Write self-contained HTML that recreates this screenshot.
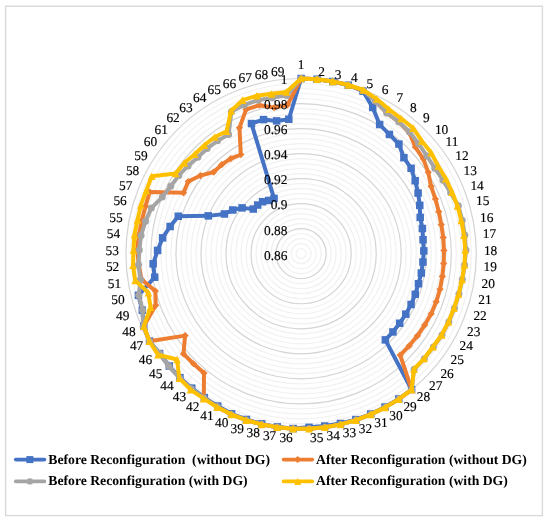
<!DOCTYPE html>
<html><head><meta charset="utf-8"><title>Voltage profile radar chart</title>
<style>html,body{margin:0;padding:0;background:#fff}svg{display:block}</style></head>
<body>
<svg width="550" height="522" viewBox="0 0 550 522">
<rect x="0" y="0" width="550" height="522" fill="#fff"/>
<rect x="5.6" y="6.2" width="536.8" height="509.4" fill="#fff" stroke="#d9d9d9" stroke-width="1.4"/>
<g fill="none">
<circle cx="301.1" cy="253.7" r="5.01" stroke="#f1f1f1" stroke-width="1.2"/>
<circle cx="301.1" cy="253.7" r="10.01" stroke="#f1f1f1" stroke-width="1.2"/>
<circle cx="301.1" cy="253.7" r="15.02" stroke="#f1f1f1" stroke-width="1.2"/>
<circle cx="301.1" cy="253.7" r="20.02" stroke="#f1f1f1" stroke-width="1.2"/>
<circle cx="301.1" cy="253.7" r="25.03" stroke="#d4d4d4" stroke-width="1.2"/>
<circle cx="301.1" cy="253.7" r="30.03" stroke="#f1f1f1" stroke-width="1.2"/>
<circle cx="301.1" cy="253.7" r="35.04" stroke="#f1f1f1" stroke-width="1.2"/>
<circle cx="301.1" cy="253.7" r="40.05" stroke="#f1f1f1" stroke-width="1.2"/>
<circle cx="301.1" cy="253.7" r="45.05" stroke="#f1f1f1" stroke-width="1.2"/>
<circle cx="301.1" cy="253.7" r="50.06" stroke="#d4d4d4" stroke-width="1.2"/>
<circle cx="301.1" cy="253.7" r="55.06" stroke="#f1f1f1" stroke-width="1.2"/>
<circle cx="301.1" cy="253.7" r="60.07" stroke="#f1f1f1" stroke-width="1.2"/>
<circle cx="301.1" cy="253.7" r="65.07" stroke="#f1f1f1" stroke-width="1.2"/>
<circle cx="301.1" cy="253.7" r="70.08" stroke="#f1f1f1" stroke-width="1.2"/>
<circle cx="301.1" cy="253.7" r="75.09" stroke="#d4d4d4" stroke-width="1.2"/>
<circle cx="301.1" cy="253.7" r="80.09" stroke="#f1f1f1" stroke-width="1.2"/>
<circle cx="301.1" cy="253.7" r="85.10" stroke="#f1f1f1" stroke-width="1.2"/>
<circle cx="301.1" cy="253.7" r="90.10" stroke="#f1f1f1" stroke-width="1.2"/>
<circle cx="301.1" cy="253.7" r="95.11" stroke="#f1f1f1" stroke-width="1.2"/>
<circle cx="301.1" cy="253.7" r="100.11" stroke="#d4d4d4" stroke-width="1.2"/>
<circle cx="301.1" cy="253.7" r="105.12" stroke="#f1f1f1" stroke-width="1.2"/>
<circle cx="301.1" cy="253.7" r="110.13" stroke="#f1f1f1" stroke-width="1.2"/>
<circle cx="301.1" cy="253.7" r="115.13" stroke="#f1f1f1" stroke-width="1.2"/>
<circle cx="301.1" cy="253.7" r="120.14" stroke="#f1f1f1" stroke-width="1.2"/>
<circle cx="301.1" cy="253.7" r="125.14" stroke="#d4d4d4" stroke-width="1.2"/>
<circle cx="301.1" cy="253.7" r="130.15" stroke="#f1f1f1" stroke-width="1.2"/>
<circle cx="301.1" cy="253.7" r="135.15" stroke="#f1f1f1" stroke-width="1.2"/>
<circle cx="301.1" cy="253.7" r="140.16" stroke="#f1f1f1" stroke-width="1.2"/>
<circle cx="301.1" cy="253.7" r="145.17" stroke="#f1f1f1" stroke-width="1.2"/>
<circle cx="301.1" cy="253.7" r="150.17" stroke="#d4d4d4" stroke-width="1.2"/>
<circle cx="301.1" cy="253.7" r="155.18" stroke="#f1f1f1" stroke-width="1.2"/>
<circle cx="301.1" cy="253.7" r="160.18" stroke="#f1f1f1" stroke-width="1.2"/>
<circle cx="301.1" cy="253.7" r="165.19" stroke="#f1f1f1" stroke-width="1.2"/>
<circle cx="301.1" cy="253.7" r="170.19" stroke="#f1f1f1" stroke-width="1.2"/>
<circle cx="301.1" cy="253.7" r="175.20" stroke="#d4d4d4" stroke-width="1.2"/>
</g>
<path d="M301.10,78.50 L317.03,79.23 L332.81,81.52 L348.30,85.24 L363.07,91.16 L372.69,107.48 L379.65,124.54 L389.43,134.43 L398.91,144.07 L403.90,157.69 L411.12,168.28 L415.16,180.73 L418.10,193.07 L419.77,205.34 L420.20,217.39 L422.40,228.49 L423.07,239.76 L423.83,250.91 L422.95,262.04 L421.32,273.02 L418.46,283.72 L415.24,294.27 L411.08,304.48 L405.79,314.14 L399.66,323.27 L392.92,331.94 L385.34,339.88 L411.59,389.51 L398.78,398.99 L385.04,407.05 L370.75,414.05 L355.84,419.60 L340.44,423.53 L324.79,426.03 L309.01,427.34 L293.13,428.59 L277.29,426.90 L261.67,423.89 L246.40,419.48 L231.55,413.82 L217.70,406.07 L204.33,397.64 L191.72,388.15 L179.95,377.64 L169.27,366.03 L159.60,353.58 L149.59,341.17 L143.74,326.35 L142.27,310.15 L138.40,295.32 L154.68,277.23 L153.15,263.82 L157.60,250.43 L162.59,237.87 L170.12,226.48 L178.29,216.25 L208.27,215.87 L224.43,213.97 L232.79,210.00 L242.09,207.88 L253.27,209.03 L257.69,205.05 L262.60,201.71 L268.72,200.45 L274.03,198.40 L251.48,123.55 L263.52,119.58 L276.64,120.90 L288.82,119.23 Z" fill="none" stroke="#4472c4" stroke-width="4" stroke-linejoin="round"/>
<g fill="#4472c4">
<rect x="297.35" y="74.75" width="7.5" height="7.5"/>
<rect x="313.28" y="75.48" width="7.5" height="7.5"/>
<rect x="329.06" y="77.77" width="7.5" height="7.5"/>
<rect x="344.55" y="81.49" width="7.5" height="7.5"/>
<rect x="359.32" y="87.41" width="7.5" height="7.5"/>
<rect x="368.94" y="103.73" width="7.5" height="7.5"/>
<rect x="375.90" y="120.79" width="7.5" height="7.5"/>
<rect x="385.68" y="130.68" width="7.5" height="7.5"/>
<rect x="395.16" y="140.32" width="7.5" height="7.5"/>
<rect x="400.15" y="153.94" width="7.5" height="7.5"/>
<rect x="407.37" y="164.53" width="7.5" height="7.5"/>
<rect x="411.41" y="176.98" width="7.5" height="7.5"/>
<rect x="414.35" y="189.32" width="7.5" height="7.5"/>
<rect x="416.02" y="201.59" width="7.5" height="7.5"/>
<rect x="416.45" y="213.64" width="7.5" height="7.5"/>
<rect x="418.65" y="224.74" width="7.5" height="7.5"/>
<rect x="419.32" y="236.01" width="7.5" height="7.5"/>
<rect x="420.08" y="247.16" width="7.5" height="7.5"/>
<rect x="419.20" y="258.29" width="7.5" height="7.5"/>
<rect x="417.57" y="269.27" width="7.5" height="7.5"/>
<rect x="414.71" y="279.97" width="7.5" height="7.5"/>
<rect x="411.49" y="290.52" width="7.5" height="7.5"/>
<rect x="407.33" y="300.73" width="7.5" height="7.5"/>
<rect x="402.04" y="310.39" width="7.5" height="7.5"/>
<rect x="395.91" y="319.52" width="7.5" height="7.5"/>
<rect x="389.17" y="328.19" width="7.5" height="7.5"/>
<rect x="381.59" y="336.13" width="7.5" height="7.5"/>
<rect x="407.84" y="385.76" width="7.5" height="7.5"/>
<rect x="395.03" y="395.24" width="7.5" height="7.5"/>
<rect x="381.29" y="403.30" width="7.5" height="7.5"/>
<rect x="367.00" y="410.30" width="7.5" height="7.5"/>
<rect x="352.09" y="415.85" width="7.5" height="7.5"/>
<rect x="336.69" y="419.78" width="7.5" height="7.5"/>
<rect x="321.04" y="422.28" width="7.5" height="7.5"/>
<rect x="305.26" y="423.59" width="7.5" height="7.5"/>
<rect x="289.38" y="424.84" width="7.5" height="7.5"/>
<rect x="273.54" y="423.15" width="7.5" height="7.5"/>
<rect x="257.92" y="420.14" width="7.5" height="7.5"/>
<rect x="242.65" y="415.73" width="7.5" height="7.5"/>
<rect x="227.80" y="410.07" width="7.5" height="7.5"/>
<rect x="213.95" y="402.32" width="7.5" height="7.5"/>
<rect x="200.58" y="393.89" width="7.5" height="7.5"/>
<rect x="187.97" y="384.40" width="7.5" height="7.5"/>
<rect x="176.20" y="373.89" width="7.5" height="7.5"/>
<rect x="165.52" y="362.28" width="7.5" height="7.5"/>
<rect x="155.85" y="349.83" width="7.5" height="7.5"/>
<rect x="145.84" y="337.42" width="7.5" height="7.5"/>
<rect x="139.99" y="322.60" width="7.5" height="7.5"/>
<rect x="138.52" y="306.40" width="7.5" height="7.5"/>
<rect x="134.65" y="291.57" width="7.5" height="7.5"/>
<rect x="150.93" y="273.48" width="7.5" height="7.5"/>
<rect x="149.40" y="260.07" width="7.5" height="7.5"/>
<rect x="153.85" y="246.68" width="7.5" height="7.5"/>
<rect x="158.84" y="234.12" width="7.5" height="7.5"/>
<rect x="166.37" y="222.73" width="7.5" height="7.5"/>
<rect x="174.54" y="212.50" width="7.5" height="7.5"/>
<rect x="204.52" y="212.12" width="7.5" height="7.5"/>
<rect x="220.68" y="210.22" width="7.5" height="7.5"/>
<rect x="229.04" y="206.25" width="7.5" height="7.5"/>
<rect x="238.34" y="204.13" width="7.5" height="7.5"/>
<rect x="249.52" y="205.28" width="7.5" height="7.5"/>
<rect x="253.94" y="201.30" width="7.5" height="7.5"/>
<rect x="258.85" y="197.96" width="7.5" height="7.5"/>
<rect x="264.97" y="196.70" width="7.5" height="7.5"/>
<rect x="270.28" y="194.65" width="7.5" height="7.5"/>
<rect x="247.73" y="119.80" width="7.5" height="7.5"/>
<rect x="259.77" y="115.83" width="7.5" height="7.5"/>
<rect x="272.89" y="117.15" width="7.5" height="7.5"/>
<rect x="285.07" y="115.48" width="7.5" height="7.5"/>
</g>
<path d="M301.10,78.50 L317.03,79.23 L332.83,81.40 L348.37,85.00 L363.29,90.58 L375.72,101.29 L386.67,112.99 L398.74,121.85 L409.24,132.49 L415.33,147.01 L423.28,158.84 L428.23,172.37 L431.10,186.34 L435.41,198.96 L438.76,211.73 L441.27,224.57 L443.21,237.45 L443.98,250.45 L443.68,263.45 L442.33,276.40 L440.04,289.24 L436.23,301.73 L431.19,313.76 L424.65,325.03 L417.45,335.83 L409.21,345.82 L400.21,355.09 L411.67,389.60 L398.85,399.10 L385.22,407.38 L370.90,414.40 L356.00,420.08 L340.64,424.38 L324.96,427.27 L309.07,428.72 L293.13,428.72 L277.24,427.27 L261.56,424.38 L246.20,420.08 L231.30,414.40 L217.22,406.94 L203.84,398.37 L203.96,373.10 L193.50,363.77 L183.46,353.94 L185.06,335.61 L149.37,341.30 L143.74,326.35 L155.71,305.37 L155.37,290.98 L141.46,279.36 L138.79,264.80 L137.21,249.97 L138.85,235.15 L141.82,220.60 L145.49,206.25 L149.75,192.02 L183.54,192.79 L188.30,181.54 L200.47,175.57 L213.67,172.04 L221.70,164.71 L230.72,158.66 L240.82,154.58 L239.47,127.82 L246.09,109.41 L259.50,105.24 L274.20,107.61 L287.52,105.02 Z" fill="none" stroke="#ed7d31" stroke-width="4" stroke-linejoin="round"/>
<g fill="#ed7d31">
<path d="M301.10,74.90 L304.70,78.50 L301.10,82.10 L297.50,78.50Z"/>
<path d="M317.03,75.63 L320.63,79.23 L317.03,82.83 L313.43,79.23Z"/>
<path d="M332.83,77.80 L336.43,81.40 L332.83,85.00 L329.23,81.40Z"/>
<path d="M348.37,81.40 L351.97,85.00 L348.37,88.60 L344.77,85.00Z"/>
<path d="M363.29,86.98 L366.89,90.58 L363.29,94.18 L359.69,90.58Z"/>
<path d="M375.72,97.69 L379.32,101.29 L375.72,104.89 L372.12,101.29Z"/>
<path d="M386.67,109.39 L390.27,112.99 L386.67,116.59 L383.07,112.99Z"/>
<path d="M398.74,118.25 L402.34,121.85 L398.74,125.45 L395.14,121.85Z"/>
<path d="M409.24,128.89 L412.84,132.49 L409.24,136.09 L405.64,132.49Z"/>
<path d="M415.33,143.41 L418.93,147.01 L415.33,150.61 L411.73,147.01Z"/>
<path d="M423.28,155.24 L426.88,158.84 L423.28,162.44 L419.68,158.84Z"/>
<path d="M428.23,168.77 L431.83,172.37 L428.23,175.97 L424.63,172.37Z"/>
<path d="M431.10,182.74 L434.70,186.34 L431.10,189.94 L427.50,186.34Z"/>
<path d="M435.41,195.36 L439.01,198.96 L435.41,202.56 L431.81,198.96Z"/>
<path d="M438.76,208.13 L442.36,211.73 L438.76,215.33 L435.16,211.73Z"/>
<path d="M441.27,220.97 L444.87,224.57 L441.27,228.17 L437.67,224.57Z"/>
<path d="M443.21,233.85 L446.81,237.45 L443.21,241.05 L439.61,237.45Z"/>
<path d="M443.98,246.85 L447.58,250.45 L443.98,254.05 L440.38,250.45Z"/>
<path d="M443.68,259.85 L447.28,263.45 L443.68,267.05 L440.08,263.45Z"/>
<path d="M442.33,272.80 L445.93,276.40 L442.33,280.00 L438.73,276.40Z"/>
<path d="M440.04,285.64 L443.64,289.24 L440.04,292.84 L436.44,289.24Z"/>
<path d="M436.23,298.13 L439.83,301.73 L436.23,305.33 L432.63,301.73Z"/>
<path d="M431.19,310.16 L434.79,313.76 L431.19,317.36 L427.59,313.76Z"/>
<path d="M424.65,321.43 L428.25,325.03 L424.65,328.63 L421.05,325.03Z"/>
<path d="M417.45,332.23 L421.05,335.83 L417.45,339.43 L413.85,335.83Z"/>
<path d="M409.21,342.22 L412.81,345.82 L409.21,349.42 L405.61,345.82Z"/>
<path d="M400.21,351.49 L403.81,355.09 L400.21,358.69 L396.61,355.09Z"/>
<path d="M411.67,386.00 L415.27,389.60 L411.67,393.20 L408.07,389.60Z"/>
<path d="M398.85,395.50 L402.45,399.10 L398.85,402.70 L395.25,399.10Z"/>
<path d="M385.22,403.78 L388.82,407.38 L385.22,410.98 L381.62,407.38Z"/>
<path d="M370.90,410.80 L374.50,414.40 L370.90,418.00 L367.30,414.40Z"/>
<path d="M356.00,416.48 L359.60,420.08 L356.00,423.68 L352.40,420.08Z"/>
<path d="M340.64,420.78 L344.24,424.38 L340.64,427.98 L337.04,424.38Z"/>
<path d="M324.96,423.67 L328.56,427.27 L324.96,430.87 L321.36,427.27Z"/>
<path d="M309.07,425.12 L312.67,428.72 L309.07,432.32 L305.47,428.72Z"/>
<path d="M293.13,425.12 L296.73,428.72 L293.13,432.32 L289.53,428.72Z"/>
<path d="M277.24,423.67 L280.84,427.27 L277.24,430.87 L273.64,427.27Z"/>
<path d="M261.56,420.78 L265.16,424.38 L261.56,427.98 L257.96,424.38Z"/>
<path d="M246.20,416.48 L249.80,420.08 L246.20,423.68 L242.60,420.08Z"/>
<path d="M231.30,410.80 L234.90,414.40 L231.30,418.00 L227.70,414.40Z"/>
<path d="M217.22,403.34 L220.82,406.94 L217.22,410.54 L213.62,406.94Z"/>
<path d="M203.84,394.77 L207.44,398.37 L203.84,401.97 L200.24,398.37Z"/>
<path d="M203.96,369.50 L207.56,373.10 L203.96,376.70 L200.36,373.10Z"/>
<path d="M193.50,360.17 L197.10,363.77 L193.50,367.37 L189.90,363.77Z"/>
<path d="M183.46,350.34 L187.06,353.94 L183.46,357.54 L179.86,353.94Z"/>
<path d="M185.06,332.01 L188.66,335.61 L185.06,339.21 L181.46,335.61Z"/>
<path d="M149.37,337.70 L152.97,341.30 L149.37,344.90 L145.77,341.30Z"/>
<path d="M143.74,322.75 L147.34,326.35 L143.74,329.95 L140.14,326.35Z"/>
<path d="M155.71,301.77 L159.31,305.37 L155.71,308.97 L152.11,305.37Z"/>
<path d="M155.37,287.38 L158.97,290.98 L155.37,294.58 L151.77,290.98Z"/>
<path d="M141.46,275.76 L145.06,279.36 L141.46,282.96 L137.86,279.36Z"/>
<path d="M138.79,261.20 L142.39,264.80 L138.79,268.40 L135.19,264.80Z"/>
<path d="M137.21,246.37 L140.81,249.97 L137.21,253.57 L133.61,249.97Z"/>
<path d="M138.85,231.55 L142.45,235.15 L138.85,238.75 L135.25,235.15Z"/>
<path d="M141.82,217.00 L145.42,220.60 L141.82,224.20 L138.22,220.60Z"/>
<path d="M145.49,202.65 L149.09,206.25 L145.49,209.85 L141.89,206.25Z"/>
<path d="M149.75,188.42 L153.35,192.02 L149.75,195.62 L146.15,192.02Z"/>
<path d="M183.54,189.19 L187.14,192.79 L183.54,196.39 L179.94,192.79Z"/>
<path d="M188.30,177.94 L191.90,181.54 L188.30,185.14 L184.70,181.54Z"/>
<path d="M200.47,171.97 L204.07,175.57 L200.47,179.17 L196.87,175.57Z"/>
<path d="M213.67,168.44 L217.27,172.04 L213.67,175.64 L210.07,172.04Z"/>
<path d="M221.70,161.11 L225.30,164.71 L221.70,168.31 L218.10,164.71Z"/>
<path d="M230.72,155.06 L234.32,158.66 L230.72,162.26 L227.12,158.66Z"/>
<path d="M240.82,150.98 L244.42,154.58 L240.82,158.18 L237.22,154.58Z"/>
<path d="M239.47,124.22 L243.07,127.82 L239.47,131.42 L235.87,127.82Z"/>
<path d="M246.09,105.81 L249.69,109.41 L246.09,113.01 L242.49,109.41Z"/>
<path d="M259.50,101.64 L263.10,105.24 L259.50,108.84 L255.90,105.24Z"/>
<path d="M274.20,104.01 L277.80,107.61 L274.20,111.21 L270.60,107.61Z"/>
<path d="M287.52,101.42 L291.12,105.02 L287.52,108.62 L283.92,105.02Z"/>
</g>
<path d="M301.10,78.50 L317.03,79.23 L332.83,81.40 L348.37,85.00 L363.29,90.58 L375.72,101.29 L386.67,112.99 L398.74,121.85 L409.66,132.03 L418.72,143.85 L426.93,156.00 L434.77,168.19 L442.99,180.18 L450.60,192.77 L458.39,205.74 L462.22,220.22 L464.85,234.98 L466.00,249.95 L464.65,264.89 L462.34,279.61 L458.95,294.08 L454.39,308.18 L448.80,321.89 L441.99,335.04 L433.29,347.01 L424.26,358.65 L414.12,369.32 L411.67,389.60 L398.85,399.10 L385.22,407.38 L370.90,414.40 L356.00,420.08 L340.64,424.38 L324.96,427.27 L309.07,428.72 L293.13,428.72 L277.24,427.27 L261.56,424.38 L246.20,420.08 L231.30,414.40 L217.28,406.83 L204.05,398.06 L191.32,388.63 L179.68,377.91 L168.99,366.28 L159.81,353.44 L149.37,341.30 L143.17,326.62 L142.62,310.02 L138.76,295.22 L140.48,279.52 L138.42,264.83 L139.33,250.02 L141.08,235.41 L145.49,221.36 L151.35,208.04 L162.27,197.12 L170.77,186.17 L178.82,175.47 L188.02,165.90 L197.84,157.26 L207.21,148.46 L217.54,140.86 L228.60,134.48 L231.49,111.52 L244.39,104.96 L258.09,100.18 L272.36,97.64 L286.65,95.43 Z" fill="none" stroke="#a5a5a5" stroke-width="4" stroke-linejoin="round"/>
<g fill="#a5a5a5">
<circle cx="301.10" cy="78.50" r="3.5"/>
<circle cx="317.03" cy="79.23" r="3.5"/>
<circle cx="332.83" cy="81.40" r="3.5"/>
<circle cx="348.37" cy="85.00" r="3.5"/>
<circle cx="363.29" cy="90.58" r="3.5"/>
<circle cx="375.72" cy="101.29" r="3.5"/>
<circle cx="386.67" cy="112.99" r="3.5"/>
<circle cx="398.74" cy="121.85" r="3.5"/>
<circle cx="409.66" cy="132.03" r="3.5"/>
<circle cx="418.72" cy="143.85" r="3.5"/>
<circle cx="426.93" cy="156.00" r="3.5"/>
<circle cx="434.77" cy="168.19" r="3.5"/>
<circle cx="442.99" cy="180.18" r="3.5"/>
<circle cx="450.60" cy="192.77" r="3.5"/>
<circle cx="458.39" cy="205.74" r="3.5"/>
<circle cx="462.22" cy="220.22" r="3.5"/>
<circle cx="464.85" cy="234.98" r="3.5"/>
<circle cx="466.00" cy="249.95" r="3.5"/>
<circle cx="464.65" cy="264.89" r="3.5"/>
<circle cx="462.34" cy="279.61" r="3.5"/>
<circle cx="458.95" cy="294.08" r="3.5"/>
<circle cx="454.39" cy="308.18" r="3.5"/>
<circle cx="448.80" cy="321.89" r="3.5"/>
<circle cx="441.99" cy="335.04" r="3.5"/>
<circle cx="433.29" cy="347.01" r="3.5"/>
<circle cx="424.26" cy="358.65" r="3.5"/>
<circle cx="414.12" cy="369.32" r="3.5"/>
<circle cx="411.67" cy="389.60" r="3.5"/>
<circle cx="398.85" cy="399.10" r="3.5"/>
<circle cx="385.22" cy="407.38" r="3.5"/>
<circle cx="370.90" cy="414.40" r="3.5"/>
<circle cx="356.00" cy="420.08" r="3.5"/>
<circle cx="340.64" cy="424.38" r="3.5"/>
<circle cx="324.96" cy="427.27" r="3.5"/>
<circle cx="309.07" cy="428.72" r="3.5"/>
<circle cx="293.13" cy="428.72" r="3.5"/>
<circle cx="277.24" cy="427.27" r="3.5"/>
<circle cx="261.56" cy="424.38" r="3.5"/>
<circle cx="246.20" cy="420.08" r="3.5"/>
<circle cx="231.30" cy="414.40" r="3.5"/>
<circle cx="217.28" cy="406.83" r="3.5"/>
<circle cx="204.05" cy="398.06" r="3.5"/>
<circle cx="191.32" cy="388.63" r="3.5"/>
<circle cx="179.68" cy="377.91" r="3.5"/>
<circle cx="168.99" cy="366.28" r="3.5"/>
<circle cx="159.81" cy="353.44" r="3.5"/>
<circle cx="149.37" cy="341.30" r="3.5"/>
<circle cx="143.17" cy="326.62" r="3.5"/>
<circle cx="142.62" cy="310.02" r="3.5"/>
<circle cx="138.76" cy="295.22" r="3.5"/>
<circle cx="140.48" cy="279.52" r="3.5"/>
<circle cx="138.42" cy="264.83" r="3.5"/>
<circle cx="139.33" cy="250.02" r="3.5"/>
<circle cx="141.08" cy="235.41" r="3.5"/>
<circle cx="145.49" cy="221.36" r="3.5"/>
<circle cx="151.35" cy="208.04" r="3.5"/>
<circle cx="162.27" cy="197.12" r="3.5"/>
<circle cx="170.77" cy="186.17" r="3.5"/>
<circle cx="178.82" cy="175.47" r="3.5"/>
<circle cx="188.02" cy="165.90" r="3.5"/>
<circle cx="197.84" cy="157.26" r="3.5"/>
<circle cx="207.21" cy="148.46" r="3.5"/>
<circle cx="217.54" cy="140.86" r="3.5"/>
<circle cx="228.60" cy="134.48" r="3.5"/>
<circle cx="231.49" cy="111.52" r="3.5"/>
<circle cx="244.39" cy="104.96" r="3.5"/>
<circle cx="258.09" cy="100.18" r="3.5"/>
<circle cx="272.36" cy="97.64" r="3.5"/>
<circle cx="286.65" cy="95.43" r="3.5"/>
</g>
<path d="M301.10,78.50 L317.03,79.23 L332.83,81.40 L348.37,85.00 L363.51,89.99 L376.82,99.05 L388.95,109.25 L401.20,118.54 L413.16,128.10 L421.83,140.95 L431.18,152.70 L438.14,166.03 L445.88,178.68 L451.99,192.20 L457.55,206.00 L461.24,220.42 L463.98,235.08 L465.24,249.96 L464.41,264.87 L462.10,279.57 L458.71,294.01 L454.04,308.05 L448.58,321.79 L441.66,334.86 L432.99,346.80 L424.17,358.57 L413.94,369.14 L411.67,389.60 L398.85,399.10 L385.22,407.38 L370.90,414.40 L356.00,420.08 L340.64,424.38 L324.96,427.27 L309.07,428.72 L293.13,428.72 L277.24,427.27 L261.56,424.38 L246.20,420.08 L231.30,414.40 L217.10,407.16 L203.63,398.68 L190.53,389.60 L179.33,378.27 L176.99,359.46 L157.97,354.73 L149.37,341.30 L143.85,326.30 L150.52,307.22 L148.34,292.77 L135.16,280.37 L133.05,265.19 L133.45,249.88 L134.49,234.65 L137.53,219.71 L140.94,204.87 L146.27,190.60 L151.76,176.32 L175.65,173.45 L184.26,162.99 L194.64,154.28 L204.37,145.29 L214.71,137.04 L226.65,131.27 L231.10,110.73 L242.57,100.17 L256.84,95.72 L271.66,93.83 L286.34,92.06 Z" fill="none" stroke="#ffc000" stroke-width="4" stroke-linejoin="round"/>
<g fill="#ffc000">
<path d="M301.10,74.70 L304.90,82.30 L297.30,82.30Z"/>
<path d="M317.03,75.43 L320.83,83.03 L313.23,83.03Z"/>
<path d="M332.83,77.60 L336.63,85.20 L329.03,85.20Z"/>
<path d="M348.37,81.20 L352.17,88.80 L344.57,88.80Z"/>
<path d="M363.51,86.19 L367.31,93.79 L359.71,93.79Z"/>
<path d="M376.82,95.25 L380.62,102.85 L373.02,102.85Z"/>
<path d="M388.95,105.45 L392.75,113.05 L385.15,113.05Z"/>
<path d="M401.20,114.74 L405.00,122.34 L397.40,122.34Z"/>
<path d="M413.16,124.30 L416.96,131.90 L409.36,131.90Z"/>
<path d="M421.83,137.15 L425.63,144.75 L418.03,144.75Z"/>
<path d="M431.18,148.90 L434.98,156.50 L427.38,156.50Z"/>
<path d="M438.14,162.23 L441.94,169.83 L434.34,169.83Z"/>
<path d="M445.88,174.88 L449.68,182.48 L442.08,182.48Z"/>
<path d="M451.99,188.40 L455.79,196.00 L448.19,196.00Z"/>
<path d="M457.55,202.20 L461.35,209.80 L453.75,209.80Z"/>
<path d="M461.24,216.62 L465.04,224.22 L457.44,224.22Z"/>
<path d="M463.98,231.28 L467.78,238.88 L460.18,238.88Z"/>
<path d="M465.24,246.16 L469.04,253.76 L461.44,253.76Z"/>
<path d="M464.41,261.07 L468.21,268.67 L460.61,268.67Z"/>
<path d="M462.10,275.77 L465.90,283.37 L458.30,283.37Z"/>
<path d="M458.71,290.21 L462.51,297.81 L454.91,297.81Z"/>
<path d="M454.04,304.25 L457.84,311.85 L450.24,311.85Z"/>
<path d="M448.58,317.99 L452.38,325.59 L444.78,325.59Z"/>
<path d="M441.66,331.06 L445.46,338.66 L437.86,338.66Z"/>
<path d="M432.99,343.00 L436.79,350.60 L429.19,350.60Z"/>
<path d="M424.17,354.77 L427.97,362.37 L420.37,362.37Z"/>
<path d="M413.94,365.34 L417.74,372.94 L410.14,372.94Z"/>
<path d="M411.67,385.80 L415.47,393.40 L407.87,393.40Z"/>
<path d="M398.85,395.30 L402.65,402.90 L395.05,402.90Z"/>
<path d="M385.22,403.58 L389.02,411.18 L381.42,411.18Z"/>
<path d="M370.90,410.60 L374.70,418.20 L367.10,418.20Z"/>
<path d="M356.00,416.28 L359.80,423.88 L352.20,423.88Z"/>
<path d="M340.64,420.58 L344.44,428.18 L336.84,428.18Z"/>
<path d="M324.96,423.47 L328.76,431.07 L321.16,431.07Z"/>
<path d="M309.07,424.92 L312.87,432.52 L305.27,432.52Z"/>
<path d="M293.13,424.92 L296.93,432.52 L289.33,432.52Z"/>
<path d="M277.24,423.47 L281.04,431.07 L273.44,431.07Z"/>
<path d="M261.56,420.58 L265.36,428.18 L257.76,428.18Z"/>
<path d="M246.20,416.28 L250.00,423.88 L242.40,423.88Z"/>
<path d="M231.30,410.60 L235.10,418.20 L227.50,418.20Z"/>
<path d="M217.10,403.36 L220.90,410.96 L213.30,410.96Z"/>
<path d="M203.63,394.88 L207.43,402.48 L199.83,402.48Z"/>
<path d="M190.53,385.80 L194.33,393.40 L186.73,393.40Z"/>
<path d="M179.33,374.47 L183.13,382.07 L175.53,382.07Z"/>
<path d="M176.99,355.66 L180.79,363.26 L173.19,363.26Z"/>
<path d="M157.97,350.93 L161.77,358.53 L154.17,358.53Z"/>
<path d="M149.37,337.50 L153.17,345.10 L145.57,345.10Z"/>
<path d="M143.85,322.50 L147.65,330.10 L140.05,330.10Z"/>
<path d="M150.52,303.42 L154.32,311.02 L146.72,311.02Z"/>
<path d="M148.34,288.97 L152.14,296.57 L144.54,296.57Z"/>
<path d="M135.16,276.57 L138.96,284.17 L131.36,284.17Z"/>
<path d="M133.05,261.39 L136.85,268.99 L129.25,268.99Z"/>
<path d="M133.45,246.08 L137.25,253.68 L129.65,253.68Z"/>
<path d="M134.49,230.85 L138.29,238.45 L130.69,238.45Z"/>
<path d="M137.53,215.91 L141.33,223.51 L133.73,223.51Z"/>
<path d="M140.94,201.07 L144.74,208.67 L137.14,208.67Z"/>
<path d="M146.27,186.80 L150.07,194.40 L142.47,194.40Z"/>
<path d="M151.76,172.52 L155.56,180.12 L147.96,180.12Z"/>
<path d="M175.65,169.65 L179.45,177.25 L171.85,177.25Z"/>
<path d="M184.26,159.19 L188.06,166.79 L180.46,166.79Z"/>
<path d="M194.64,150.48 L198.44,158.08 L190.84,158.08Z"/>
<path d="M204.37,141.49 L208.17,149.09 L200.57,149.09Z"/>
<path d="M214.71,133.24 L218.51,140.84 L210.91,140.84Z"/>
<path d="M226.65,127.47 L230.45,135.07 L222.85,135.07Z"/>
<path d="M231.10,106.93 L234.90,114.53 L227.30,114.53Z"/>
<path d="M242.57,96.37 L246.37,103.97 L238.77,103.97Z"/>
<path d="M256.84,91.92 L260.64,99.52 L253.04,99.52Z"/>
<path d="M271.66,90.03 L275.46,97.63 L267.86,97.63Z"/>
<path d="M286.34,88.26 L290.14,95.86 L282.54,95.86Z"/>
</g>
<g font-family="'Liberation Serif', serif" font-size="13.4" fill="#000" stroke="#000" stroke-width="0.15" text-rendering="geometricPrecision">
<text x="287.4" y="259.5" text-anchor="end">0.86</text>
<text x="287.4" y="234.5" text-anchor="end">0.88</text>
<text x="287.4" y="209.4" text-anchor="end">0.9</text>
<text x="287.4" y="184.4" text-anchor="end">0.92</text>
<text x="287.4" y="159.4" text-anchor="end">0.94</text>
<text x="287.4" y="134.4" text-anchor="end">0.96</text>
<text x="287.4" y="109.3" text-anchor="end">0.98</text>
<text x="287.4" y="84.3" text-anchor="end">1</text>
<text x="301.1" y="68.7" text-anchor="middle">1</text>
<text x="318.3" y="76.4" text-anchor="start">2</text>
<text x="334.7" y="78.6" text-anchor="start">3</text>
<text x="350.9" y="82.4" text-anchor="start">4</text>
<text x="366.6" y="87.6" text-anchor="start">5</text>
<text x="381.8" y="94.3" text-anchor="start">6</text>
<text x="396.4" y="102.3" text-anchor="start">7</text>
<text x="410.1" y="111.6" text-anchor="start">8</text>
<text x="423.0" y="122.1" text-anchor="start">9</text>
<text x="434.9" y="133.8" text-anchor="start">10</text>
<text x="445.6" y="146.4" text-anchor="start">11</text>
<text x="455.2" y="160.1" text-anchor="start">12</text>
<text x="463.5" y="174.5" text-anchor="start">13</text>
<text x="470.4" y="189.7" text-anchor="start">14</text>
<text x="476.0" y="205.4" text-anchor="start">15</text>
<text x="480.1" y="221.5" text-anchor="start">16</text>
<text x="482.7" y="238.0" text-anchor="start">17</text>
<text x="483.9" y="254.6" text-anchor="start">18</text>
<text x="483.5" y="271.3" text-anchor="start">19</text>
<text x="481.6" y="287.9" text-anchor="start">20</text>
<text x="478.2" y="304.2" text-anchor="start">21</text>
<text x="473.4" y="320.1" text-anchor="start">22</text>
<text x="467.1" y="335.6" text-anchor="start">23</text>
<text x="459.5" y="350.4" text-anchor="start">24</text>
<text x="450.6" y="364.4" text-anchor="start">25</text>
<text x="440.4" y="377.6" text-anchor="start">26</text>
<text x="429.1" y="389.8" text-anchor="start">27</text>
<text x="416.7" y="400.9" text-anchor="start">28</text>
<text x="403.4" y="410.8" text-anchor="start">29</text>
<text x="389.2" y="419.5" text-anchor="start">30</text>
<text x="374.3" y="426.8" text-anchor="start">31</text>
<text x="358.8" y="432.8" text-anchor="start">32</text>
<text x="342.8" y="437.3" text-anchor="start">33</text>
<text x="326.5" y="440.3" text-anchor="start">34</text>
<text x="310.0" y="441.8" text-anchor="start">35</text>
<text x="292.8" y="441.8" text-anchor="end">36</text>
<text x="276.3" y="440.3" text-anchor="end">37</text>
<text x="260.0" y="437.3" text-anchor="end">38</text>
<text x="244.0" y="432.8" text-anchor="end">39</text>
<text x="228.5" y="426.8" text-anchor="end">40</text>
<text x="213.6" y="419.5" text-anchor="end">41</text>
<text x="199.4" y="410.8" text-anchor="end">42</text>
<text x="186.1" y="400.9" text-anchor="end">43</text>
<text x="173.7" y="389.8" text-anchor="end">44</text>
<text x="162.4" y="377.6" text-anchor="end">45</text>
<text x="152.2" y="364.4" text-anchor="end">46</text>
<text x="143.3" y="350.4" text-anchor="end">47</text>
<text x="135.7" y="335.6" text-anchor="end">48</text>
<text x="129.4" y="320.1" text-anchor="end">49</text>
<text x="124.6" y="304.2" text-anchor="end">50</text>
<text x="121.2" y="287.9" text-anchor="end">51</text>
<text x="119.3" y="271.3" text-anchor="end">52</text>
<text x="118.9" y="254.6" text-anchor="end">53</text>
<text x="120.1" y="238.0" text-anchor="end">54</text>
<text x="122.7" y="221.5" text-anchor="end">55</text>
<text x="126.8" y="205.4" text-anchor="end">56</text>
<text x="132.4" y="189.7" text-anchor="end">57</text>
<text x="139.3" y="174.5" text-anchor="end">58</text>
<text x="147.6" y="160.1" text-anchor="end">59</text>
<text x="157.2" y="146.4" text-anchor="end">60</text>
<text x="167.9" y="133.8" text-anchor="end">61</text>
<text x="179.8" y="122.1" text-anchor="end">62</text>
<text x="192.7" y="111.6" text-anchor="end">63</text>
<text x="206.4" y="102.3" text-anchor="end">64</text>
<text x="221.0" y="94.3" text-anchor="end">65</text>
<text x="236.2" y="87.6" text-anchor="end">66</text>
<text x="251.9" y="82.4" text-anchor="end">67</text>
<text x="268.1" y="78.6" text-anchor="end">68</text>
<text x="284.5" y="76.4" text-anchor="end">69</text>
</g>
<g font-family="'Liberation Serif', serif" font-size="13.7" font-weight="bold" fill="#000" text-rendering="geometricPrecision">
<line x1="15.7" y1="459.6" x2="44.5" y2="459.6" stroke="#4472c4" stroke-width="3.6" stroke-linecap="round"/><g fill="#4472c4"><rect x="26.40" y="456.10" width="7" height="7"/></g><text x="48.3" y="463.5">Before Reconfiguration  (without DG)</text>
<line x1="283.5" y1="459.6" x2="312.3" y2="459.6" stroke="#ed7d31" stroke-width="3.6" stroke-linecap="round"/><g fill="#ed7d31"><path d="M297.70,456.10 L301.20,459.60 L297.70,463.10 L294.20,459.60Z"/></g><text x="316.1" y="463.5">After Reconfiguration (without DG)</text>
<line x1="15.7" y1="481.4" x2="44.5" y2="481.4" stroke="#a5a5a5" stroke-width="3.6" stroke-linecap="round"/><g fill="#a5a5a5"><circle cx="29.90" cy="481.40" r="3.2"/></g><text x="48.3" y="485.3">Before Reconfiguration (with DG)</text>
<line x1="283.5" y1="481.4" x2="312.3" y2="481.4" stroke="#ffc000" stroke-width="3.6" stroke-linecap="round"/><g fill="#ffc000"><path d="M297.70,477.90 L301.20,484.90 L294.20,484.90Z"/></g><text x="316.1" y="485.3">After Reconfiguration (with DG)</text>
</g>
</svg>
</body></html>
